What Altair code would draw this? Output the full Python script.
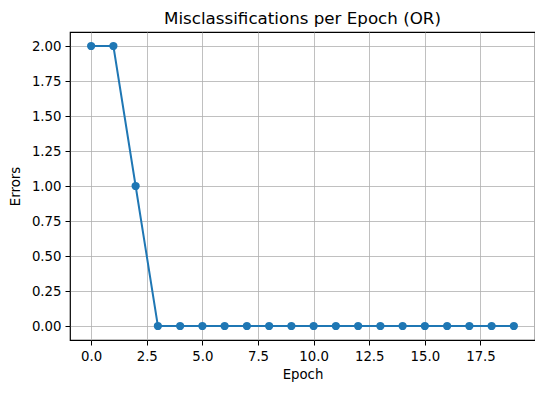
import altair as alt
import pandas as pd

epochs = list(range(20))
errors = [2, 2, 1] + [0] * 17

df = pd.DataFrame({"Epoch": epochs, "Errors": errors})

FONT = "DejaVu Sans"
COLOR = "#1f77b4"

x = alt.X("Epoch:Q",
          scale=alt.Scale(domain=[-0.95, 19.95], nice=False, zero=False),
          axis=alt.Axis(values=[0, 2.5, 5, 7.5, 10, 12.5, 15, 17.5], format=".1f",
                        title="Epoch", titlePadding=5))
y = alt.Y("Errors:Q",
          scale=alt.Scale(domain=[-0.1, 2.1], nice=False, zero=False),
          axis=alt.Axis(values=[0, 0.25, 0.5, 0.75, 1.0, 1.25, 1.5, 1.75, 2.0], format=".2f",
                        title="Errors", titlePadding=9))

base = alt.Chart(df)
line = base.mark_line(color=COLOR, strokeWidth=2).encode(x=x, y=y)
pts = base.mark_circle(color=COLOR, size=68, opacity=1).encode(x=x, y=y)

chart = (line + pts).properties(
    width=465, height=308,
    background="white",
    title=alt.TitleParams("Misclassifications per Epoch (OR)", font=FONT, fontSize=16.7,
                          fontWeight="normal", color="black", offset=4),
    autosize=alt.AutoSizeParams(type="none"),
    padding={"left": 62, "top": 24, "right": 0, "bottom": 45},
).configure_view(stroke="black", strokeWidth=1.2
).configure_axis(
    grid=True, gridColor="#b0b0b0", gridWidth=0.8,
    domain=False, tickColor="black", tickSize=5, tickWidth=1,
    labelFont=FONT, labelFontSize=13.3, labelColor="black", labelPadding=4,
    titleFont=FONT, titleFontSize=13.3, titleFontWeight="normal", titleColor="black",
)

chart.save("out.html", embed_options={"renderer": "svg", "actions": False})
